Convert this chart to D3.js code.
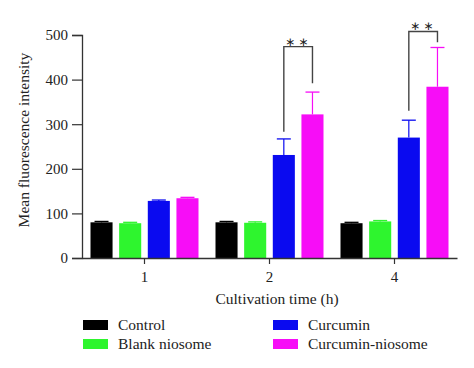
<!DOCTYPE html>
<html><head><meta charset="utf-8">
<script src="https://cdn.jsdelivr.net/npm/d3@7"></script>
<style>body{margin:0;background:#fff}svg{display:block}text{font-family:"Liberation Serif","DejaVu Serif",serif;fill:#222}</style>
</head><body><svg id="c" width="474" height="368"></svg>
<script>
const categories = ["1", "2", "4"];
const seriesNames = ["Control", "Blank niosome", "Curcumin", "Curcumin-niosome"];
const seriesColors = ["#000000", "#2ef52e", "#0a0af0", "#f70df7"];
const controlVals = [80, 80, 78];
const controlErr = [2, 2, 2];
const blankVals = [78, 79, 82];
const blankErr = [2, 2, 2];
const curcuminVals = [128, 231, 270];
const curcuminErr = [2, 36, 39];
const curNioVals = [134, 322, 384];
const curNioErr = [2, 50, 88];
const yTicks = [0, 100, 200, 300, 400, 500];
// significance brackets: [category, left bottom, right bottom, top]
const sigCats = ["2", "4"];
const sigLeft = [283, 330];
const sigRight = [392, 484];
const sigTop = [474, 508];

const svg = d3.select("#c");
const x0 = d3.scaleBand().domain(categories).range([82, 457]).padding(0);
const x1 = d3.scaleBand().domain(seriesNames).range([0, 108]).paddingInner(0.23).paddingOuter(0);
const y = d3.scaleLinear().domain([0, 500]).range([258, 35]);

const vals = [controlVals, blankVals, curcuminVals, curNioVals];
const errs = [controlErr, blankErr, curcuminErr, curNioErr];
const off = (x0.bandwidth() - 108) / 2;

// axes
const ya = svg.append("g").attr("transform", "translate(82,0)")
  .call(d3.axisLeft(y).tickValues(yTicks).tickSize(10).tickPadding(4));
ya.select(".domain").attr("stroke", "#333").attr("stroke-width", 1.3);
ya.selectAll(".tick line").attr("stroke", "#333").attr("stroke-width", 1.2);
ya.selectAll("text").attr("font-size", 15).style("font-family", "Liberation Serif").attr("fill", "#222");

const data = [];
categories.forEach((c, i) => seriesNames.forEach((s, j) => data.push({c, s, j, v: vals[j][i], e: errs[j][i]})));

const g = svg.append("g");
// error bars
data.forEach(d => {
  const cx = x0(d.c) + off + x1(d.s) + x1.bandwidth() / 2;
  const col = seriesColors[d.j];
  g.append("line").attr("x1", cx).attr("x2", cx).attr("y1", y(d.v)).attr("y2", y(d.v + d.e)).attr("stroke", col).attr("stroke-width", 1.2);
  g.append("line").attr("x1", cx - 7).attr("x2", cx + 7).attr("y1", y(d.v + d.e)).attr("y2", y(d.v + d.e)).attr("stroke", col).attr("stroke-width", 1.3);
});
g.selectAll("rect").data(data).join("rect")
  .attr("x", d => x0(d.c) + off + x1(d.s))
  .attr("width", x1.bandwidth())
  .attr("y", d => y(d.v))
  .attr("height", d => y(0) - y(d.v))
  .attr("fill", d => seriesColors[d.j]);

const xa = svg.append("g").attr("transform", "translate(0,258)")
  .call(d3.axisBottom(x0).tickSize(6).tickPadding(7).tickSizeOuter(0));
xa.select(".domain").attr("stroke", "#333").attr("stroke-width", 1.3);
xa.selectAll(".tick line").attr("stroke", "#333").attr("stroke-width", 1.2);
xa.selectAll("text").attr("font-size", 15).style("font-family", "Liberation Serif").attr("fill", "#222");

// significance brackets
sigCats.forEach((c, i) => {
  const lx = x0(c) + off + x1("Curcumin") + x1.bandwidth() / 2;
  const rx = x0(c) + off + x1("Curcumin-niosome") + x1.bandwidth() / 2;
  svg.append("path").attr("d", `M${lx},${y(sigLeft[i])}V${y(sigTop[i])}H${rx}V${y(sigRight[i])}`)
    .attr("fill", "none").attr("stroke", "#444").attr("stroke-width", 1.4);
  svg.append("text").attr("x", (lx + rx) / 2).attr("y", y(sigTop[i]) - 1).attr("text-anchor", "middle")
    .attr("font-size", 12).attr("fill", "#444").text("∗∗").style("font-family", "DejaVu Sans").attr("letter-spacing", 3);
});

// axis titles
svg.append("text").attr("transform", "translate(29,140) rotate(-90)").attr("text-anchor", "middle")
  .attr("font-size", 15.5).text("Mean fluorescence intensity");
svg.append("text").attr("x", 277).attr("y", 304).attr("text-anchor", "middle")
  .attr("font-size", 15.5).text("Cultivation time (h)");

// legend
const lx = [83, 273], ly = [325, 344];
seriesNames.forEach((s, j) => {
  const col = j < 2 ? 0 : 1, row = j % 2;
  svg.append("rect").attr("x", lx[col]).attr("y", ly[row] - 5).attr("width", 25).attr("height", 10).attr("fill", seriesColors[j]);
  svg.append("text").attr("x", lx[col] + 35).attr("y", ly[row] + 5).attr("font-size", 15.5).text(s);
});
</script></body></html>
